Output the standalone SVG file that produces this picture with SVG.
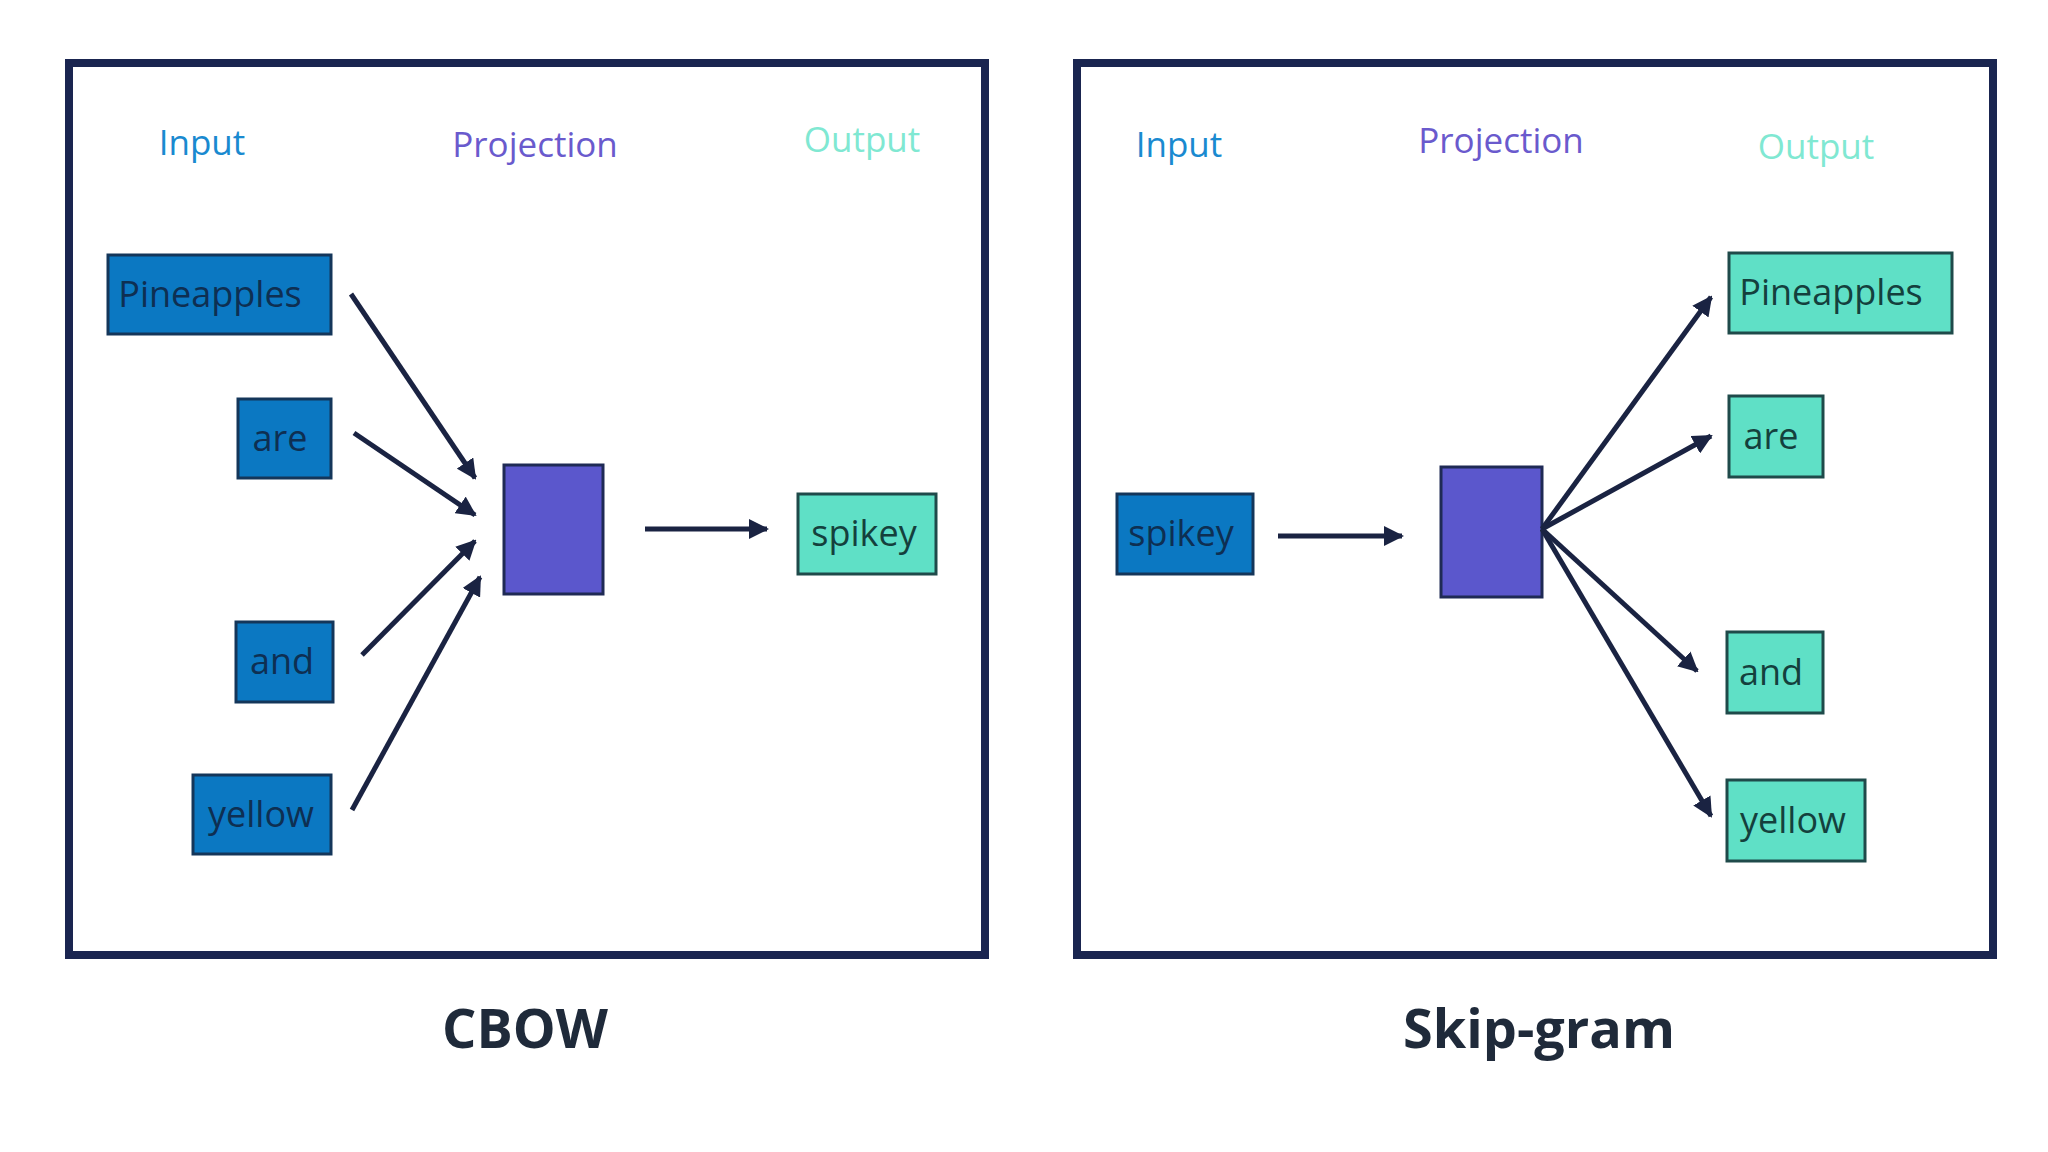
<svg xmlns="http://www.w3.org/2000/svg" width="2048" height="1152" viewBox="0 0 2048 1152">
<defs>
<marker id="ah" viewBox="0 0 10 10" refX="9" refY="5" markerWidth="4" markerHeight="4" orient="auto"><path d="M0,0 L10,5 L0,10 z" fill="#1a2342"/></marker>
</defs>
<style>
text{font-family:"Open Sans","Noto Sans",sans-serif}
.frame{fill:#fff;stroke:#1a2550;stroke-width:8}
.in{fill:#0b78c2;stroke:#14365a;stroke-width:3}
.out{fill:#5fe0c6;stroke:#1f4a4a;stroke-width:3}
.proj{fill:#5b57cc;stroke:#1f2a55;stroke-width:3}
.bt{font-size:36px;fill:#0e2f52;text-anchor:middle}
.bto{font-size:36px;fill:#14403d;text-anchor:middle}
.h{font-size:35px;text-anchor:middle}
.t{font-size:54px;font-weight:bold;fill:#1f2a3a;text-anchor:middle}
.c{stroke:#1a2342;stroke-width:5;fill:none;marker-end:url(#ah)}
</style>
<rect width="2048" height="1152" fill="#fff"/>
<rect class="frame" x="69" y="63" width="916" height="892"/>
<rect class="frame" x="1077" y="63" width="916" height="892"/>
<text class="h" x="202" y="155" fill="#1a8ad0">Input</text>
<text class="h" x="535" y="157" fill="#6a5acd">Projection</text>
<text class="h" x="862" y="152" fill="#80e8d2">Output</text>
<text class="h" x="1179" y="157" fill="#1a8ad0">Input</text>
<text class="h" x="1501" y="153" fill="#6a5acd">Projection</text>
<text class="h" x="1816" y="159" fill="#80e8d2">Output</text>
<g id="cbow-pineapples"><rect class="in" x="108" y="255" width="223" height="79"/><text class="bt" x="210" y="307">Pineapples</text></g>
<g id="cbow-are"><rect class="in" x="238" y="399" width="93" height="79"/><text class="bt" x="280" y="451">are</text></g>
<g id="cbow-and"><rect class="in" x="236" y="622" width="97" height="80"/><text class="bt" x="282" y="674">and</text></g>
<g id="cbow-yellow"><rect class="in" x="193" y="775" width="138" height="79"/><text class="bt" x="261" y="827">yellow</text></g>
<g id="cbow-proj"><rect class="proj" x="504" y="465" width="99" height="129"/></g>
<g id="cbow-spikey"><rect class="out" x="798" y="494" width="138" height="80"/><text class="bto" x="864" y="546">spikey</text></g>
<g id="sg-spikey"><rect class="in" x="1117" y="494" width="136" height="80"/><text class="bt" x="1181" y="546">spikey</text></g>
<g id="sg-proj"><rect class="proj" x="1441" y="467" width="101" height="130"/></g>
<g id="sg-pineapples"><rect class="out" x="1729" y="253" width="223" height="80"/><text class="bto" x="1831" y="305">Pineapples</text></g>
<g id="sg-are"><rect class="out" x="1729" y="396" width="94" height="81"/><text class="bto" x="1771" y="449">are</text></g>
<g id="sg-and"><rect class="out" x="1727" y="632" width="96" height="81"/><text class="bto" x="1771" y="685">and</text></g>
<g id="sg-yellow"><rect class="out" x="1727" y="780" width="138" height="81"/><text class="bto" x="1793" y="833">yellow</text></g>
<g id="connectors">
<line class="c" x1="351" y1="294" x2="475" y2="478"/>
<line class="c" x1="354" y1="433" x2="475" y2="515"/>
<line class="c" x1="362" y1="655" x2="475" y2="541"/>
<line class="c" x1="352" y1="810" x2="480" y2="577"/>
<line class="c" x1="645" y1="529" x2="767" y2="529"/>
<line class="c" x1="1278" y1="536" x2="1402" y2="536"/>
<line class="c" x1="1542" y1="529" x2="1711" y2="297"/>
<line class="c" x1="1542" y1="529" x2="1711" y2="436"/>
<line class="c" x1="1542" y1="529" x2="1697" y2="671"/>
<line class="c" x1="1542" y1="529" x2="1711" y2="816"/>
</g>
<text class="t" x="525" y="1048">CBOW</text>
<text class="t" x="1539" y="1048">Skip-gram</text>
</svg>
